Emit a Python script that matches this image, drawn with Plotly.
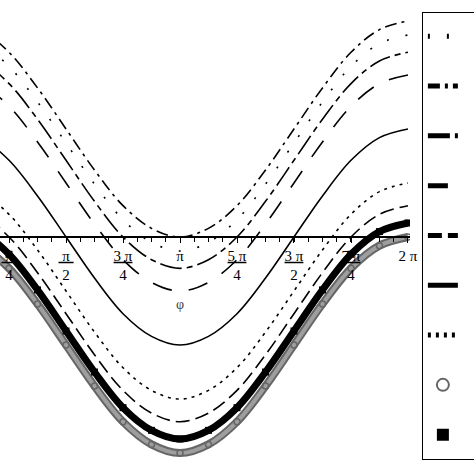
import plotly.graph_objects as go

# phi sample points (0 .. 2*pi in steps of pi/8)
PHI = [0.000, 0.393, 0.785, 1.178, 1.571, 1.963, 2.356, 2.749, 3.142,
       3.534, 3.927, 4.320, 4.712, 5.105, 5.498, 5.890, 6.283]

# curves (unit = zero line to crest of the solid curve)
CURVE_DOTS = [1.87, 1.79, 1.58, 1.25, 0.87, 0.49, 0.16, -0.05, -0.13,
              -0.05, 0.16, 0.49, 0.87, 1.25, 1.58, 1.79, 1.87]
CURVE_DASHDOT = [2.00, 1.92, 1.71, 1.38, 1.00, 0.62, 0.29, 0.08, 0.00,
                 0.08, 0.29, 0.62, 1.00, 1.38, 1.71, 1.92, 2.00]
CURVE_LONGSHORT = [1.71, 1.63, 1.42, 1.09, 0.71, 0.33, 0.00, -0.21, -0.29,
                   -0.21, 0.00, 0.33, 0.71, 1.09, 1.42, 1.63, 1.71]
CURVE_LONGGAP = [1.50, 1.42, 1.21, 0.88, 0.50, 0.12, -0.21, -0.42, -0.50,
                 -0.42, -0.21, 0.12, 0.50, 0.88, 1.21, 1.42, 1.50]
CURVE_DASH = [0.29, 0.21, 0.00, -0.33, -0.71, -1.09, -1.42, -1.63, -1.71,
              -1.63, -1.42, -1.09, -0.71, -0.33, 0.00, 0.21, 0.29]
CURVE_SOLID = [1.00, 0.92, 0.71, 0.38, 0.00, -0.38, -0.71, -0.92, -1.00,
               -0.92, -0.71, -0.38, 0.00, 0.38, 0.71, 0.92, 1.00]
CURVE_DOTTED = [0.50, 0.42, 0.21, -0.12, -0.50, -0.88, -1.21, -1.42, -1.50,
                -1.42, -1.21, -0.88, -0.50, -0.12, 0.21, 0.42, 0.50]
CURVE_CIRCLES = [0.00, -0.08, -0.29, -0.62, -1.00, -1.38, -1.71, -1.92, -2.00,
                 -1.92, -1.71, -1.38, -1.00, -0.62, -0.29, -0.08, 0.00]
CURVE_SQUARES = [0.13, 0.05, -0.16, -0.49, -0.87, -1.25, -1.58, -1.79, -1.87,
                 -1.79, -1.58, -1.25, -0.87, -0.49, -0.16, 0.05, 0.13]

TICK_VALS = [0.785, 1.571, 2.356, 3.142, 3.927, 4.712, 5.498, 6.283]
TICK_TEXT = ["<u>\u00a0π\u00a0</u><br>4", "<u>\u00a0π\u00a0</u><br>2",
             "<u>3 π</u><br>4", "π", "<u>5 π</u><br>4", "<u>3 π</u><br>2",
             "<u>7 π</u><br>4", "2 π"]

X_RANGE = [0.661, 6.311]
Y_RANGE = [-2.194, 2.194]

# legend labels are cut off in the source image; keep blank padding so the
# legend box runs past the right edge
BLANK = "\u00a0" * 8

fig = go.Figure()

lines = [
    (CURVE_DOTS, "2px,17px"),
    (CURVE_DASHDOT, "12px,5px,3px,5px"),
    (CURVE_LONGSHORT, "22px,5px,6px,5px"),
    (CURVE_LONGGAP, "20px,17px"),
    (CURVE_DASH, "14px,6px"),
    (CURVE_SOLID, "solid"),
    (CURVE_DOTTED, "3px,5px"),
]
for i, (ys, dash) in enumerate(lines):
    fig.add_trace(go.Scatter(
        x=PHI, y=ys, mode="lines", name=BLANK,
        line=dict(color="black", width=1.6, dash=dash, shape="spline"),
        legendgroup=f"g{i}", legendrank=i + 1,
    ))

# gray band of open circles
fig.add_trace(go.Scatter(
    x=PHI, y=CURVE_CIRCLES, mode="lines", showlegend=False,
    line=dict(color="#666666", width=8, shape="spline"), legendgroup="g7",
))
fig.add_trace(go.Scatter(
    x=PHI, y=CURVE_CIRCLES, mode="lines", showlegend=False,
    line=dict(color="#9e9e9e", width=4, shape="spline"), legendgroup="g7",
))
fig.add_trace(go.Scatter(
    x=PHI, y=CURVE_CIRCLES, mode="markers", name=BLANK,
    marker=dict(symbol="circle-open", size=6, color="#666666",
                line=dict(width=1.5)),
    legendgroup="g7", legendrank=8,
))

# black band of squares
fig.add_trace(go.Scatter(
    x=PHI, y=CURVE_SQUARES, mode="lines", showlegend=False,
    line=dict(color="black", width=7, shape="spline"), legendgroup="g8",
))
fig.add_trace(go.Scatter(
    x=PHI, y=CURVE_SQUARES, mode="markers", name=BLANK,
    marker=dict(symbol="square", size=7, color="black"),
    legendgroup="g8", legendrank=9,
))

fig.add_annotation(
    x=3.142, y=0, xref="x", yref="y", text="φ", showarrow=False,
    yanchor="top", yshift=-58,
    font=dict(family="Liberation Serif", size=14, color="#444444"),
)

fig.update_layout(
    width=474, height=474,
    margin=dict(l=0, r=64, t=0, b=0, autoexpand=False),
    paper_bgcolor="white", plot_bgcolor="white",
    xaxis=dict(
        range=X_RANGE, anchor="free",
        position=(0 - Y_RANGE[0]) / (Y_RANGE[1] - Y_RANGE[0]),
        showline=True, linecolor="black", linewidth=1.5,
        showgrid=False, zeroline=False,
        ticks="outside", ticklen=5, tickwidth=1, tickcolor="black",
        tickvals=TICK_VALS, ticktext=TICK_TEXT,
        tickfont=dict(family="Liberation Serif", size=15, color="black"),
        minor=dict(dtick=0.19635, tick0=0, ticks="outside", ticklen=4,
                   tickcolor="black", showgrid=False),
    ),
    yaxis=dict(range=Y_RANGE, visible=False),
    showlegend=True,
    legend=dict(
        x=1.029, xanchor="left", y=0.975, yanchor="top",
        bordercolor="black", borderwidth=1, bgcolor="white",
        tracegroupgap=13, itemsizing="constant",
        font=dict(family="Liberation Serif", size=26, color="black"),
    ),
)

fig.write_html("out.html", config={"displayModeBar": False},
               post_script="document.body.style.margin='0px';")
